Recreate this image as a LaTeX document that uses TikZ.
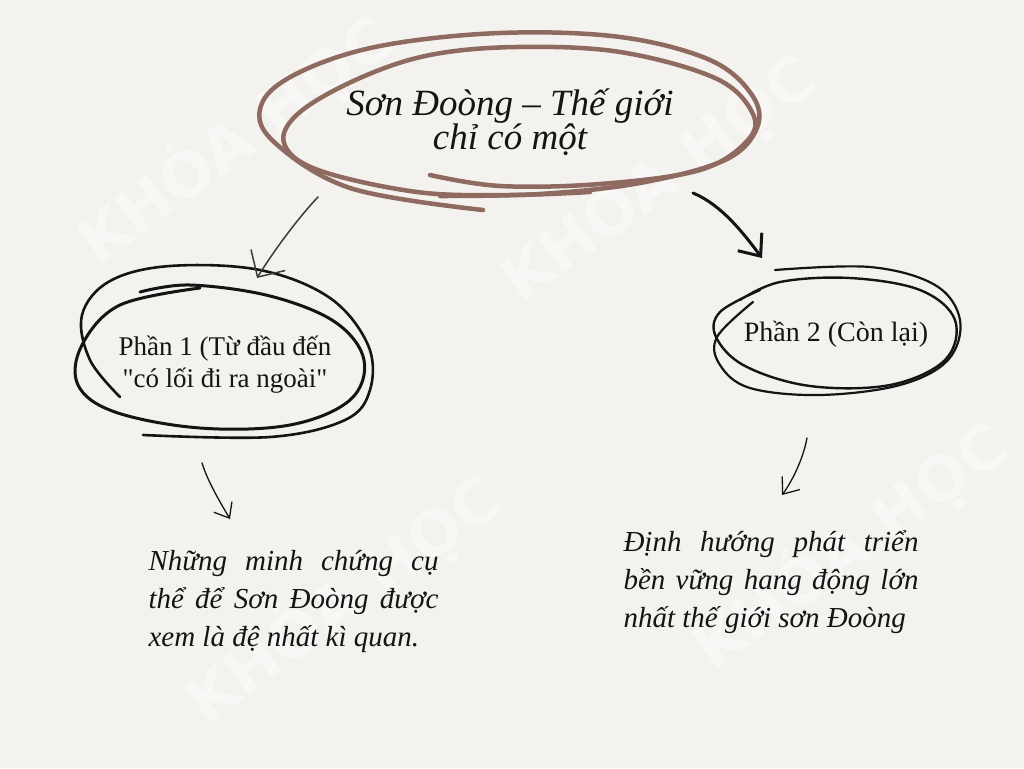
\documentclass[tikz,border=0pt]{standalone}
\usepackage{fontspec}
\setmainfont{Liberation Serif}
\newfontfamily\boxfont{Liberation Serif}[Ligatures=TeXOff]
\newfontfamily\wmfont{DejaVu Sans}
\usetikzlibrary{arrows.meta}
\definecolor{paper}{HTML}{F4F2EE}
\definecolor{clay}{HTML}{8E6A60}
\definecolor{ink}{HTML}{141414}
\definecolor{pencil}{HTML}{3C3C3C}

\begin{document}
\begin{tikzpicture}[x=1pt,y=-1pt,
		wmark/.style={text=white,opacity=0.42,font=\wmfont\bfseries\fontsize{62}{62}\selectfont},
		scribble/.style={line cap=round,line join=round,smooth,tension=0.6},
		boxtext/.style={text=ink,align=center,font=\boxfont\fontsize{27}{32}\selectfont},
		notetext/.style={text=ink,align=left,font=\itshape\fontsize{29}{38}\selectfont}]
			\fill[paper] (0,0) rectangle (1024,768);
			\useasboundingbox (0,0) rectangle (1024,768);
			
			% faint marks behind
			\node[wmark,rotate=36] (wmone) at (235,140) {KHÓA HỌC};
			\node[wmark,rotate=36] (wmtwo) at (658,178) {KHÓA HỌC};
			\node[wmark,rotate=36] (wmthree) at (343,600) {KHÓA HỌC};
			\node[wmark,rotate=36] (wmfour) at (850,546) {KHÓA HỌC};
			
			% title and its loops
			\draw[clay,line width=4.5pt,scribble] plot coordinates {(483,210) (350,188) (272,140) (262,103) (300,72) (380,46) (500,33) (620,37) (710,60) (752,95) (757,128) (725,160) (640,183) (540,194) (440,196)};
			\draw[clay,line width=4.5pt,scribble] plot coordinates {(430,175) (500,186) (600,184) (700,170) (748,140) (752,112) (715,78) (620,52) (517,47) (430,55) (360,78) (300,112) (284,143) (318,170) (417,192) (510,195) (590,192)};
			\node[text=ink,align=center,font=\itshape\fontsize{37}{33}\selectfont] (title) at (510,122) {Sơn Đoòng – Thế giới\\chỉ có một};
			
			% first part
			\draw[ink,line width=2.6pt,scribble] plot coordinates {(120,397) (90,360) (82,315) (110,281) (170,266) (260,270) (330,298) (368,345) (370,390) (345,420) (270,437) (143,435)};
			\draw[ink,line width=3pt,scribble] plot coordinates {(200,288) (120,305) (82,345) (78,385) (115,412) (200,428) (290,425) (350,400) (364,360) (335,322) (270,296) (190,285) (140,292)};
			\node[boxtext] (partone) at (225,365) {Phần 1 (Từ đầu đến\\"có lối đi ra ngoài"};
			
			% second part
			\draw[ink,line width=2.2pt,scribble] plot coordinates {(775,270) (870,267) (935,285) (960,320) (948,360) (900,385) (820,395) (750,388) (720,365) (717,337) (753,302)};
			\draw[ink,line width=2.4pt,scribble] plot coordinates {(760,290) (720,312) (716,337) (745,366) (810,386) (890,385) (945,360) (955,320) (920,290) (850,278) (780,282) (740,300)};
			\node[boxtext,font=\boxfont\fontsize{28}{32}\selectfont] (parttwo) at (836,334) {Phần 2 (Còn lại)};
			
			% notes
			\node[notetext,anchor=west] (noteone) at (145,602) {\makebox[290pt][s]{Những minh chứng cụ}\\\makebox[290pt][s]{thể để Sơn Đoòng được}\\xem là đệ nhất kì quan.};
			\node[notetext,anchor=west] (notetwo) at (620,582) {\makebox[295pt][s]{Định hướng phát triển}\\\makebox[295pt][s]{bền vững hang động lớn}\\nhất thế giới sơn Đoòng};
			
			% arrows
			\coordinate (ltail) at (318,197);
			\coordinate (lhead) at (257,278);
			\coordinate (rtail) at (693,193);
			\coordinate (rhead) at (762,258);
			\coordinate (onetail) at (202,463);
			\coordinate (onehead) at (230,519);
			\coordinate (twotail) at (807,438);
			\coordinate (twohead) at (782,495);
			\draw[pencil,line width=1.5pt,line cap=round,-{Straight Barb[length=20pt,width=40pt]}] (ltail) .. controls (298,218) and (273,252) .. (lhead);
			\draw[ink,line width=3pt,line cap=round,-{Straight Barb[length=18pt,width=30pt]}] (rtail) .. controls (722,205) and (744,234) .. (rhead);
			\draw[ink,line width=1.3pt,line cap=round,-{Straight Barb[length=13pt,width=21pt]}] (onetail) .. controls (208,482) and (220,502) .. (onehead);
			\draw[ink,line width=1.3pt,line cap=round,-{Straight Barb[length=14pt,width=22pt]}] (twotail) .. controls (803,460) and (791,483) .. (twohead);
		\end{tikzpicture}
\end{document}
